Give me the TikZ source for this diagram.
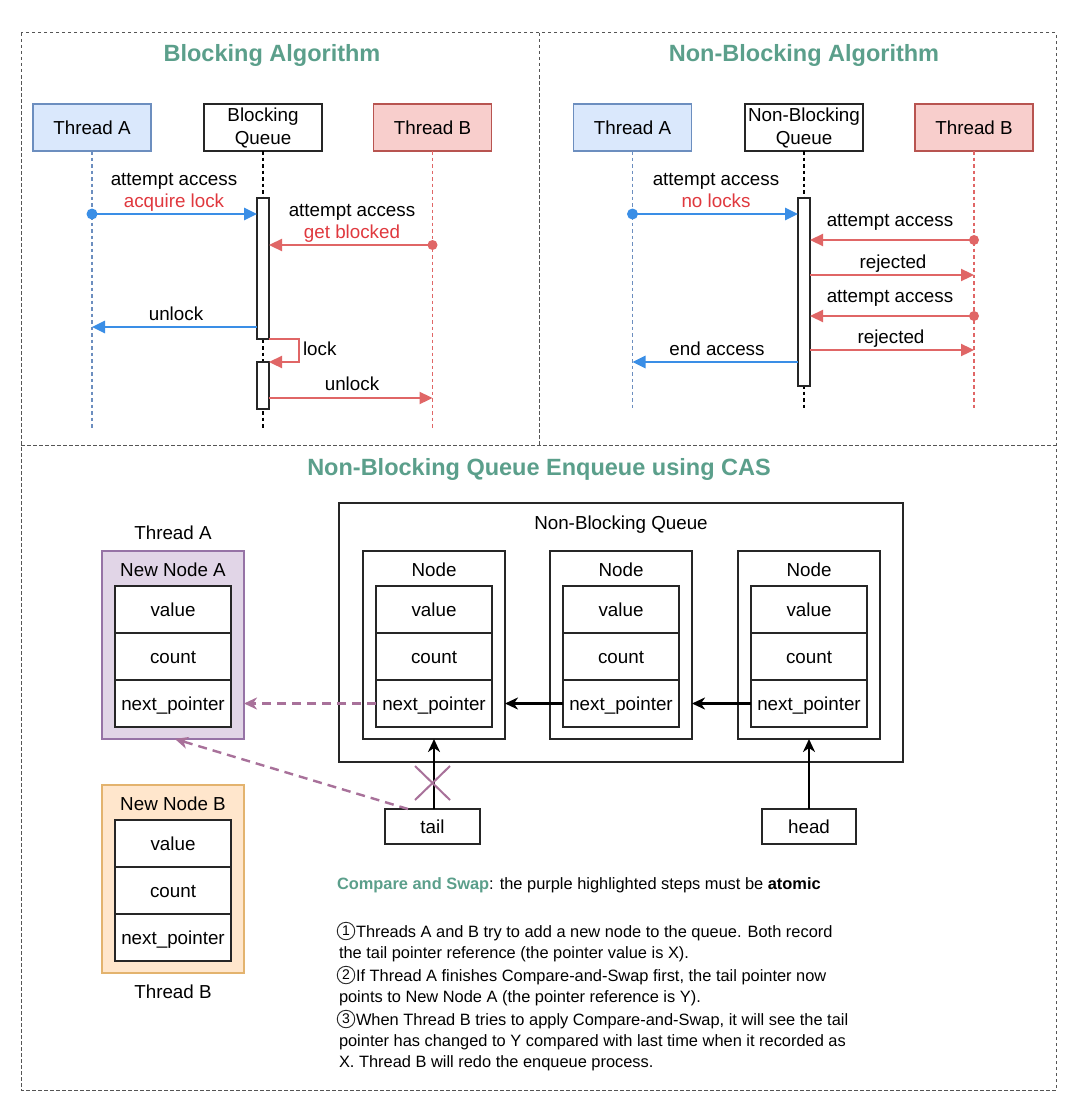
\documentclass[tikz,border=0pt]{standalone}
\usepackage{fontspec}
\setmainfont{Liberation Sans}
\usetikzlibrary{arrows.meta}
\definecolor{teal1}{HTML}{5B9F8B}
\definecolor{blueF}{HTML}{DAE8FC}
\definecolor{blueD}{HTML}{6C8EBF}
\definecolor{redF}{HTML}{F8CECC}
\definecolor{redD}{HTML}{B85450}
\definecolor{arrB}{HTML}{3A8EE6}
\definecolor{arrR}{HTML}{E06666}
\definecolor{txtR}{HTML}{E0383E}
\definecolor{purF}{HTML}{E1D5E7}
\definecolor{purD}{HTML}{9673A6}
\definecolor{orgF}{HTML}{FFE6CC}
\definecolor{orgD}{HTML}{E3B36E}
\definecolor{mauve}{HTML}{A8719A}
\definecolor{frameC}{HTML}{555555}
\newcommand\QNode[5]{%
  \node[qbox,#5] (#1) at (#2,#3) {};
  \node[lbl] (#1t) at (#2+71,#3+19) {#4};
  \node[field] (#1v) at (#2+13,#3+35) {value};
  \node[field] (#1c) at (#2+13,#3+82) {count};
  \node[field] (#1p) at (#2+13,#3+129) {next\_pointer};
}
\begin{document}
\begin{tikzpicture}[x=1pt,y=-1pt,
  every node/.style={inner sep=0pt, outer sep=0pt},
  lbl/.style={font=\fontsize{18.8}{22}\selectfont, text height=13.5pt, text depth=0pt},
  lblR/.style={lbl, text=txtR},
  ttl/.style={font=\fontsize{23.5}{27}\selectfont\bfseries, text=teal1, text height=17pt, text depth=0pt},
  body/.style={font=\fontsize{16.4}{20}\selectfont, anchor=base west},
  cnum/.style={circle, draw=black!85, line width=0.9pt, minimum size=17.5, font=\fontsize{14}{14}\selectfont},
  frame/.style={draw=frameC, line width=1pt, dash pattern=on 3.5pt off 2.5pt},
  hdr/.style={font=\fontsize{18.8}{23}\selectfont, minimum width=118, minimum height=47, line width=1.2pt, align=center},
  life/.style={line width=1.1pt, dash pattern=on 3.5pt off 3pt},
  bar/.style={draw=black!85, fill=white, line width=1.2pt, minimum width=12, anchor=north west},
  barr/.style={draw=arrB, line width=2.6pt, -{Triangle[length=13pt,width=12pt]}},
  rarr/.style={draw=arrR, line width=2.3pt, -{Triangle[length=13pt,width=12pt]}},
  qbox/.style={draw=black!85, fill=white, line width=1.2pt, minimum width=142, minimum height=188, anchor=north west},
  field/.style={lbl, draw=black!85, fill=white, line width=1.2pt, minimum width=116, minimum height=47, anchor=north west},
  ptr/.style={lbl, draw=black!85, fill=white, line width=1.2pt, minimum width=95, minimum height=35, anchor=north west},
  karr/.style={draw=black, line width=2.4pt, -{Stealth[length=13pt,width=12pt,inset=4pt]}},
  darr/.style={draw=mauve, line width=2.4pt, dash pattern=on 9pt off 6pt, -{Stealth[length=13pt,width=12pt,inset=4pt]}}
]
\useasboundingbox (0,0) rectangle (1080,1116);
\fill[white] (0,0) rectangle (1080,1116);

% frames
\draw[frame] (21,33) rectangle (1056,1090);
\draw[frame] (539,33) -- (539,445);
\draw[frame] (21,445) -- (1056,445);

% ---------------- Blocking ----------------
\node[ttl] (t1) at (272,53) {Blocking Algorithm};
\node[hdr, draw=blueD, fill=blueF] (tA1) at (92,127.5) {Thread A};
\node[hdr, draw=black!85, fill=white] (q1) at (263,127.5) {Blocking\\Queue};
\node[hdr, draw=redD, fill=redF] (tB1) at (432.5,127.5) {Thread B};
\coordinate (tA1e) at (92,428);
\coordinate (q1e) at (263,430);
\coordinate (tB1e) at (432.5,428);
\draw[life, draw=blueD] (tA1.south) -- (tA1e);
\draw[life, draw=black] (q1.south) -- (q1e);
\draw[life, draw=arrR] (tB1.south) -- (tB1e);
\node[bar, minimum height=141] (b1) at (257,198) {};
\node[bar, minimum height=47] (b2) at (257,362) {};

\coordinate (p1) at (92,214);
\draw[barr] (p1) -- (b1.west |- p1);
\fill[arrB] (p1) circle[radius=5.5pt];
\node[lbl] (l1a) at (174,179) {attempt access};
\node[lblR] (l1b) at (174,201) {acquire lock};

\coordinate (p2) at (432.5,245);
\draw[rarr] (p2) -- (b1.east |- p2);
\fill[arrR] (p2) circle[radius=5pt];
\node[lbl] (l2a) at (352,210) {attempt access};
\node[lblR] (l2b) at (352,232) {get blocked};

\coordinate (p3) at (92,327);
\draw[barr] (b1.west |- p3) -- (p3);
\node[lbl] (l3) at (176,314) {unlock};

\draw[rarr] (b1.south east) -- ++(30,0) |- (b2.north east);
\node[lbl, anchor=west] (l4) at (303,349) {lock};

\coordinate (p4) at (432.5,398);
\draw[rarr] (b2.east |- p4) -- (p4);
\node[lbl] (l5) at (352,384) {unlock};

% ---------------- Non-Blocking ----------------
\node[ttl] (t2) at (804,53) {Non-Blocking Algorithm};
\node[hdr, draw=blueD, fill=blueF] (tA2) at (632.5,127.5) {Thread A};
\node[hdr, draw=black!85, fill=white] (q2) at (804,127.5) {Non-Blocking\\Queue};
\node[hdr, draw=redD, fill=redF] (tB2) at (974,127.5) {Thread B};
\coordinate (tA2e) at (632.5,408);
\coordinate (q2e) at (804,408);
\coordinate (tB2e) at (974,408);
\draw[life, draw=blueD] (tA2.south) -- (tA2e);
\draw[life, draw=black] (q2.south) -- (q2e);
\draw[life, draw=arrR] (tB2.south) -- (tB2e);
\node[bar, minimum height=188] (b3) at (798,198) {};

\coordinate (r1) at (632.5,214);
\draw[barr] (r1) -- (b3.west |- r1);
\fill[arrB] (r1) circle[radius=5.5pt];
\node[lbl] (m1a) at (716,179) {attempt access};
\node[lblR] (m1b) at (716,201) {no locks};

\coordinate (r2) at (974,240);
\draw[rarr] (r2) -- (b3.east |- r2);
\fill[arrR] (r2) circle[radius=5pt];
\node[lbl] (m2) at (890,220) {attempt access};

\coordinate (r3) at (974,275);
\draw[rarr] (b3.east |- r3) -- (r3);
\node[lbl] (m3) at (893,262) {rejected};

\coordinate (r4) at (974,316);
\draw[rarr] (r4) -- (b3.east |- r4);
\fill[arrR] (r4) circle[radius=5pt];
\node[lbl] (m4) at (890,296) {attempt access};

\coordinate (r5) at (974,350);
\draw[rarr] (b3.east |- r5) -- (r5);
\node[lbl] (m5) at (891,337) {rejected};

\coordinate (r6) at (632.5,362);
\draw[barr] (b3.west |- r6) -- (r6);
\node[lbl] (m6) at (717,349) {end access};

% ---------------- CAS ----------------
\node[ttl] (t3) at (539,467) {Non-Blocking Queue Enqueue using CAS};

\node[draw=black!85, fill=white, line width=1.2pt, minimum width=564, minimum height=259, anchor=north west] (queue) at (339,503) {};
\node[lbl] (queuet) at (621,523) {Non-Blocking Queue};

\QNode{nA}{102}{551}{New Node A}{fill=purF, draw=purD}
\QNode{n1}{363}{551}{Node}{}
\QNode{n2}{550}{551}{Node}{}
\QNode{n3}{738}{551}{Node}{}
\QNode{nB}{102}{785}{New Node B}{fill=orgF, draw=orgD}
\node[lbl] (thA) at (173,533) {Thread A};
\node[lbl] (thB) at (173,992) {Thread B};

\node[ptr] (tail) at (385,809) {tail};
\node[ptr, minimum width=94] (head) at (762,809) {head};

\draw[karr] (n2p.west) -- (n1.east |- n2p);
\draw[karr] (n3p.west) -- (n2.east |- n3p);
\draw[karr] (head.north) -- (head.north |- n3.south);
\draw[karr] (tail.north -| n1.south) -- (n1.south);

\draw[darr] (n1p.west) -- (nA.east |- n1p);
\coordinate (tl) at ([xshift=23pt]tail.north west);
\draw[darr] (tl) -- ([xshift=2pt]nA.south);

\coordinate (xc) at (433,783);
\draw[mauve, line width=2pt] ([shift={(-18pt,-17pt)}]xc) -- ([shift={(17pt,17pt)}]xc)
  ([shift={(-18pt,17pt)}]xc) -- ([shift={(17pt,-17pt)}]xc);

% text
\node[body] (cas) at (337,889) {\textcolor{teal1}{\bfseries Compare and Swap}: the purple highlighted steps must be \textbf{atomic}};
\node[cnum] (c1) at (346,931) {1};
\node[body] (s1) at (356,937) {Threads A and B try to add a new node to the queue. Both record};
\node[body] (s1b) at (339,958) {the tail pointer reference (the pointer value is X).};
\node[cnum] (c2) at (346,975) {2};
\node[body] (s2) at (356,981) {If Thread A finishes Compare-and-Swap first, the tail pointer now};
\node[body] (s2b) at (339,1002) {points to New Node A (the pointer reference is Y).};
\node[cnum] (c3) at (346,1019) {3};
\node[body] (s3) at (356,1025) {When Thread B tries to apply Compare-and-Swap, it will see the tail};
\node[body] (s3b) at (339,1046) {pointer has changed to Y compared with last time when it recorded as};
\node[body] (s3c) at (339,1067) {X. Thread B will redo the enqueue process.};
\end{tikzpicture}
\end{document}
